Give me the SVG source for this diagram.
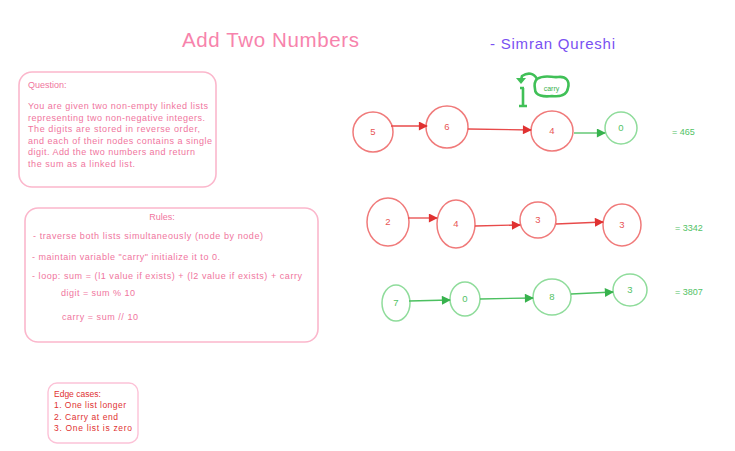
<svg xmlns="http://www.w3.org/2000/svg" width="735" height="451" viewBox="0 0 735 451">
<defs>
<style>
text{font-family:"Liberation Sans","DejaVu Sans",sans-serif}
.box{fill:none;stroke:#fbb7cc;stroke-width:1.6}
.pk{fill:#f0759e;font-size:9px}
.rn{fill:none;stroke:#f07a7a;stroke-width:1.5}
.gn{fill:none;stroke:#8fdc9b;stroke-width:1.5}
.rt{fill:#e85555;font-size:9.5px;text-anchor:middle}
.gt{fill:#52c265;font-size:9.5px;text-anchor:middle}
.ra{stroke:#e84a4a;stroke-width:1.3;fill:none}
.ga{stroke:#4cc060;stroke-width:1.3;fill:none}
.sum{fill:#52c265;font-size:9px}
</style>
<marker id="mr" viewBox="0 0 10 10" refX="9" refY="5" markerWidth="10" markerHeight="9" orient="auto" markerUnits="userSpaceOnUse"><path d="M0,0L10,5L0,10z" fill="#e03131"/></marker>
<marker id="mg" viewBox="0 0 10 10" refX="9" refY="5" markerWidth="10" markerHeight="9" orient="auto" markerUnits="userSpaceOnUse"><path d="M0,0L10,5L0,10z" fill="#37b24d"/></marker>
</defs>
<rect width="735" height="451" fill="#ffffff"/>

<g id="title">
<text x="182" y="47" font-size="20.5" fill="#f783ac" textLength="177">Add Two Numbers</text>
<text x="490" y="49" font-size="15" fill="#7950f2" textLength="125">- Simran Qureshi</text>
</g>

<g id="question">
<rect class="box" x="19" y="72" width="197" height="115" rx="13"/>
<text class="pk" x="28" y="88">Question:</text>
<text class="pk" x="28" y="109" textLength="180">You are given two non-empty linked lists</text>
<text class="pk" x="28" y="120.5" textLength="177">representing two non-negative integers.</text>
<text class="pk" x="28" y="132" textLength="172">The digits are stored in reverse order,</text>
<text class="pk" x="28" y="143.5" textLength="184">and each of their nodes contains a single</text>
<text class="pk" x="28" y="155" textLength="167">digit. Add the two numbers and return</text>
<text class="pk" x="28" y="166.5" textLength="107">the sum as a linked list.</text>
</g>

<g id="rules">
<rect class="box" x="25" y="208" width="293" height="134" rx="13"/>
<text class="pk" x="162" y="220" text-anchor="middle">Rules:</text>
<text class="pk" x="33" y="239" textLength="230">- traverse both lists simultaneously (node by node)</text>
<text class="pk" x="32" y="260" textLength="188">- maintain variable "carry" initialize it to 0.</text>
<text class="pk" x="32" y="279" textLength="270">- loop: sum = (l1 value if exists) + (l2 value if exists) + carry</text>
<text class="pk" x="61" y="296" textLength="74">digit = sum % 10</text>
<text class="pk" x="62" y="320" textLength="76">carry = sum // 10</text>
</g>

<g id="edge-cases">
<rect x="48" y="383" width="90" height="60" rx="9" fill="none" stroke="#fcc2d7" stroke-width="1.4"/>
<text x="54" y="397" font-size="8.5" fill="#e03131">Edge cases:</text>
<text x="54" y="408" font-size="8.5" fill="#e03131" textLength="72">1. One list longer</text>
<text x="54" y="419.5" font-size="8.5" fill="#e03131" textLength="64">2. Carry at end</text>
<text x="54" y="431" font-size="8.5" fill="#e03131" textLength="78">3. One list is zero</text>
</g>

<g id="carry-note">
<path d="M537,79 C545,74 552,78 558,77 C566,76 570,81 568,88 C567,95 560,97 552,96 C544,97 535,96 535,89 C534,84 535,81 537,79 Z" fill="none" stroke="#40c057" stroke-width="2.6"/>
<text x="551.5" y="91" font-size="7" fill="#37b24d" text-anchor="middle">carry</text>
<path d="M537,79 C534,73 528,72 522,76 L521,80" fill="none" stroke="#40c057" stroke-width="2.6"/>
<path d="M516,78 L526,78 L521,84 Z" fill="#40c057"/>
<path d="M523,88 L523,105 M519,106 L527,106 M520,88 L524,88" fill="none" stroke="#40c057" stroke-width="2.6"/>
</g>

<g id="n-5"><ellipse class="rn" cx="373" cy="132" rx="20" ry="20"/><text class="rt" x="373" y="135">5</text></g>
<g id="n-6"><ellipse class="rn" cx="447" cy="127" rx="21" ry="21"/><text class="rt" x="447" y="130">6</text></g>
<g id="n-4"><ellipse class="rn" cx="552" cy="131" rx="21" ry="20"/><text class="rt" x="552" y="134">4</text></g>
<g id="n-0a"><ellipse class="gn" cx="621" cy="128" rx="16" ry="16"/><text class="gt" x="621" y="131">0</text></g>
<text id="sum1" class="sum" x="672" y="135">= 465</text>

<g id="n-2"><ellipse class="rn" cx="388" cy="222" rx="21" ry="24"/><text class="rt" x="388" y="225">2</text></g>
<g id="n-4b"><ellipse class="rn" cx="456" cy="224" rx="19" ry="24"/><text class="rt" x="456" y="227">4</text></g>
<g id="n-3a"><ellipse class="rn" cx="538" cy="220" rx="18" ry="18"/><text class="rt" x="538" y="223">3</text></g>
<g id="n-3b"><ellipse class="rn" cx="622" cy="225" rx="19" ry="21"/><text class="rt" x="622" y="228">3</text></g>
<text id="sum2" class="sum" x="675" y="231">= 3342</text>

<g id="n-7"><ellipse class="gn" cx="396" cy="303" rx="14" ry="18"/><text class="gt" x="396" y="306">7</text></g>
<g id="n-0b"><ellipse class="gn" cx="465" cy="299" rx="15" ry="17"/><text class="gt" x="465" y="302">0</text></g>
<g id="n-8"><ellipse class="gn" cx="552" cy="297" rx="19" ry="18"/><text class="gt" x="552" y="300">8</text></g>
<g id="n-3c"><ellipse class="gn" cx="630" cy="290" rx="17" ry="16"/><text class="gt" x="630" y="293">3</text></g>
<text id="sum3" class="sum" x="675" y="295">= 3807</text>

<g id="connectors">
<line class="ra" x1="391" y1="126" x2="427" y2="126" marker-end="url(#mr)"/>
<line class="ra" x1="468" y1="129" x2="531" y2="130" marker-end="url(#mr)"/>
<line class="ga" x1="574" y1="133" x2="605" y2="133" marker-end="url(#mg)"/>
<line class="ra" x1="408" y1="218" x2="437" y2="218" marker-end="url(#mr)"/>
<line class="ra" x1="475" y1="226" x2="520" y2="225" marker-end="url(#mr)"/>
<line class="ra" x1="556" y1="224" x2="603" y2="222" marker-end="url(#mr)"/>
<line class="ga" x1="409" y1="301" x2="450" y2="300" marker-end="url(#mg)"/>
<line class="ga" x1="480" y1="299" x2="533" y2="298" marker-end="url(#mg)"/>
<line class="ga" x1="571" y1="294" x2="613" y2="292" marker-end="url(#mg)"/>
</g>
</svg>
